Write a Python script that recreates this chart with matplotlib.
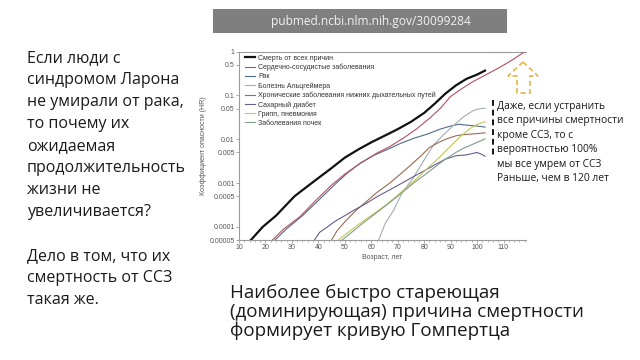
import matplotlib
matplotlib.use('Agg')
import matplotlib.pyplot as plt
from matplotlib.patches import Rectangle, Polygon
from matplotlib.lines import Line2D
from matplotlib.ticker import FixedLocator, NullLocator, MultipleLocator

# ── values (age in years, hazard ratio) ─────────────────────────────
all_age = [14.5, 19, 24, 31, 37.5, 45, 50, 55, 60, 65, 70, 75, 80, 84, 88, 92, 96,
           100, 103]
all_hr = [5e-5, 1e-4, 1.8e-4, 5e-4, 1e-3, 2.2e-3, 3.8e-3, 5.8e-3, 8.5e-3, 0.012,
          0.017, 0.025, 0.04, 0.065, 0.11, 0.17, 0.24, 0.3, 0.37]

cvd_age = [22.6, 27, 33, 39, 45, 50, 55, 62, 67, 72, 77, 82, 86, 90, 94, 98, 103,
           108, 113, 118]
cvd_hr = [5e-5, 9e-5, 1.7e-4, 4e-4, 9e-4, 1.6e-3, 2.6e-3, 4.8e-3, 6.8e-3, 0.0105,
          0.017, 0.03, 0.05, 0.095, 0.14, 0.2, 0.29, 0.42, 0.63, 1.0]

cancer_age = [23.6, 28, 34, 40, 46, 51, 56, 61, 66, 71, 76, 81, 86, 90, 93, 96, 100, 103]
cancer_hr = [5e-5, 9e-5, 1.8e-4, 4e-4, 9e-4, 1.7e-3, 2.9e-3, 4.3e-3, 5.8e-3, 8e-3,
             0.0105, 0.013, 0.017, 0.02, 0.022, 0.021, 0.02, 0.019]

alz_age = [62.8, 65.3, 68.5, 71.6, 75.4, 79.5, 83.6, 87.5, 91.2, 95, 98.5, 101, 103]
alz_hr = [5e-5, 1.2e-4, 2.4e-4, 5.9e-4, 1.2e-3, 3e-3, 7.5e-3, 0.013, 0.021, 0.033,
          0.045, 0.05, 0.051]

clrd_age = [45, 47, 50, 54, 58, 62, 67, 71, 75, 79, 82, 86, 89, 92, 95, 99, 103]
clrd_hr = [5e-5, 8e-5, 1.3e-4, 2.3e-4, 3.7e-4, 6e-4, 1e-3, 1.6e-3, 2.6e-3, 4.3e-3,
           6.5e-3, 8.8e-3, 0.0105, 0.012, 0.0128, 0.0133, 0.014]

diab_age = [38.5, 40.5, 43, 46, 50, 54, 58, 62, 67, 71, 75, 80, 84, 88, 92, 96, 100,
            101.5, 103]
diab_hr = [5e-5, 7.5e-5, 9.5e-5, 1.3e-4, 1.8e-4, 2.5e-4, 3.4e-4, 4.8e-4, 7e-4, 9.5e-4,
           1.3e-3, 1.9e-3, 2.6e-3, 3.5e-3, 4.2e-3, 4.4e-3, 5e-3, 4.6e-3, 4.1e-3]

flu_age = [47.5, 50, 54, 58, 62, 66, 70, 74, 78, 82, 86, 90, 94, 97, 100, 103]
flu_hr = [5e-5, 6.5e-5, 1e-4, 1.5e-4, 2.2e-4, 3.3e-4, 5.3e-4, 8.5e-4, 1.4e-3, 2.4e-3,
          4e-3, 7e-3, 0.012, 0.017, 0.022, 0.025]

kid_age = [49, 52, 56, 60, 64, 68, 72, 76, 80, 84, 88, 92, 95, 98, 101, 103]
kid_hr = [5e-5, 7e-5, 1.1e-4, 1.7e-4, 2.6e-4, 4e-4, 6.3e-4, 1e-3, 1.5e-3, 2.3e-3,
          3.5e-3, 5e-3, 6.3e-3, 7.5e-3, 9e-3, 0.0102]

series_labels = ['Смерть от всех причин', 'Сердечно-сосудистые заболевания', 'Рак',
                 'Болезнь Альцгеймера',
                 'Хронические заболевания нижних дыхательных путей',
                 'Сахарный диабет', 'Грипп, пневмония', 'Заболевания почек']

y_ticks = [1, 0.5, 0.1, 0.05, 0.01, 0.005, 0.001, 0.0005, 0.0001, 0.00005]
y_ticklabels = ['1', '0.5', '0.1', '0.05', '0.01', '0.005', '0.001', '0.0005',
                '0.0001', '0.00005']
x_ticks = [10, 20, 30, 40, 50, 60, 70, 80, 90, 100, 110]

left_text = ('Если люди с\nсиндромом Ларона\nне умирали от рака,\nто почему их\n'
             'ожидаемая\nпродолжительность\nжизни не\nувеличивается?\n\n'
             'Дело в том, что их\nсмертность от ССЗ\nтакая же.')
bottom_text = ('Наиболее быстро стареющая\n(доминирующая) причина смертности\n'
               'формирует кривую Гомпертца')
note_text = ('Даже, если устранить\nвсе причины смертности\nкроме ССЗ, то с\n'
             'вероятностью 100%\nмы все умрем от ССЗ\nРаньше, чем в 120 лет')
url_text = 'pubmed.ncbi.nlm.nih.gov/30099284'

W, H = 640, 360


def fx(px):
    return px / W


def fy(py):
    return 1 - py / H


fig = plt.figure(figsize=(6.4, 3.6), dpi=100)
fig.patch.set_facecolor('white')

# ── chart ─────────────────────────────────────────────────────────────
ax = fig.add_axes([fx(239), fy(240), fx(526) - fx(239), fy(51.7) - fy(240)])

series = [
    (all_age, all_hr, '#111111', 1.6, 5),
    (cvd_age, cvd_hr, '#b4505e', 0.8, 4),
    (cancer_age, cancer_hr, '#4f6b8c', 0.8, 3),
    (alz_age, alz_hr, '#a3acb5', 0.8, 3),
    (clrd_age, clrd_hr, '#9a6a52', 0.8, 3),
    (diab_age, diab_hr, '#6a5c8e', 0.8, 3),
    (flu_age, flu_hr, '#c3c655', 0.8, 3),
    (kid_age, kid_hr, '#7f9f86', 0.8, 3),
]
for (xs, ys, c, lw, z), lab in zip(series, series_labels):
    ax.plot(xs, ys, color=c, linewidth=lw, zorder=z, label=lab)

ax.set_yscale('log')
ax.set_ylim(5e-5, 1)
ax.set_xlim(10, 118.5)
ax.yaxis.set_major_locator(FixedLocator(y_ticks))
ax.yaxis.set_minor_locator(NullLocator())
ax.set_yticklabels(y_ticklabels)
ax.set_xticks(x_ticks)
ax.xaxis.set_minor_locator(MultipleLocator(2))

for s in ['left', 'bottom', 'top']:
    ax.spines[s].set_color('#9a9a9a')
    ax.spines[s].set_linewidth(0.8)
ax.spines['right'].set_visible(False)
ax.tick_params(axis='both', which='major', labelsize=5, colors='#9a9a9a',
               labelcolor='#555555', length=2, width=0.6, pad=1)
ax.tick_params(axis='x', which='minor', length=1.2, width=0.5, colors='#9a9a9a')
for lab in ax.get_xticklabels() + ax.get_yticklabels():
    lab.set_family('Liberation Sans')

ax.set_xlabel('Возраст, лет', fontsize=5, color='#555555', family='Liberation Sans',
              labelpad=2)
ax.set_ylabel('Коэффициент опасности (HR)', fontsize=5, color='#555555',
              family='Liberation Sans', labelpad=2)

leg = ax.legend(loc='upper left', bbox_to_anchor=(0.02, 0.985), frameon=False,
                prop={'family': 'Liberation Sans', 'size': 5}, handlelength=1.5,
                handletextpad=0.4, labelspacing=0.3, borderpad=0, borderaxespad=0)
for t in leg.get_texts():
    t.set_color('#333333')

# ── slide decorations ─────────────────────────────────────────────────
fig.patches.append(Rectangle((fx(213), fy(33)), fx(507) - fx(213), fy(9) - fy(33),
                             transform=fig.transFigure, facecolor='#7f7f7f',
                             edgecolor='none'))
fig.text(fx(371), fy(21), url_text, ha='center', va='center', color='#f2f2f2',
         fontsize=8.6, family='Open Sans')

fig.text(fx(27), fy(50), left_text, ha='left', va='top', fontsize=11.5,
         family='Open Sans', color='#1a1a1a', linespacing=1.5)

fig.text(fx(230), fy(284), bottom_text, ha='left', va='top', fontsize=13.5,
         family='Open Sans', color='#1a1a1a', linespacing=1.07)

fig.text(fx(497), fy(101), note_text, ha='left', va='top', fontsize=7.4,
         family='Open Sans', color='#1a1a1a', linespacing=1.43)

fig.add_artist(Line2D([fx(493), fx(493)], [fy(100), fy(155)],
                      transform=fig.transFigure, color='#111111', linewidth=1.4,
                      linestyle=(0, (3, 2))))

arrow_px = [(523, 62), (538, 76), (530, 76), (530, 93), (517, 93), (517, 76),
            (508, 76)]
fig.patches.append(Polygon([(fx(x), fy(y)) for x, y in arrow_px], closed=True,
                           transform=fig.transFigure, facecolor='none',
                           edgecolor='#e3b54a', linewidth=1.2,
                           linestyle=(0, (3, 2))))

fig.savefig('out.png', dpi=100)
